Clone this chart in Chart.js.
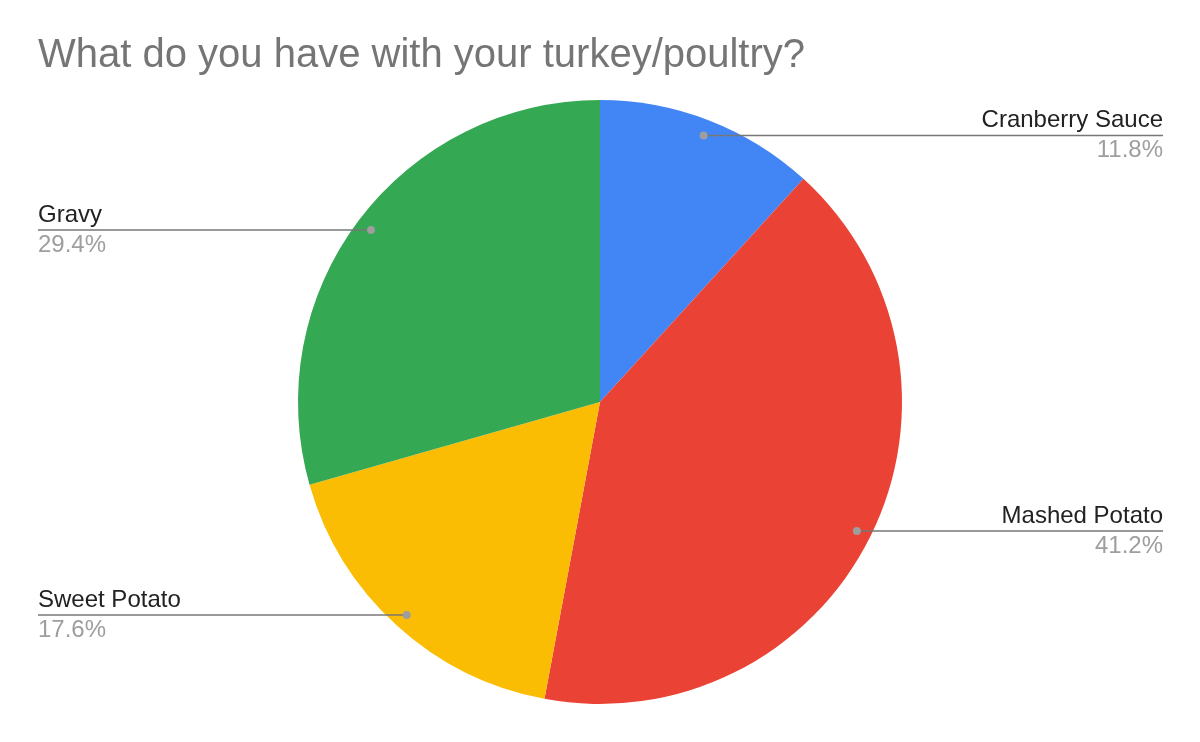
<!DOCTYPE html>
<html>
<head>
<meta charset="utf-8">
<title>What do you have with your turkey/poultry?</title>
<script src="https://cdn.jsdelivr.net/npm/chart.js@4"></script>
<style>
  html, body { margin: 0; padding: 0; background: #fff; }
  #wrap { width: 1200px; height: 742px; }
</style>
</head>
<body>
<div id="wrap"><canvas id="pieChart" width="1200" height="742"></canvas></div>
<script>
// data
const categories = ['Cranberry Sauce', 'Mashed Potato', 'Sweet Potato', 'Gravy'];
const counts = [2, 7, 3, 5];
const sliceColors = ['#4285F4', '#EA4335', '#FBBC04', '#34A853'];

const FONT = '"Liberation Sans", Arial, sans-serif';

// leader lines + labels, Google Sheets style
const leaderLabels = {
  id: 'leaderLabels',
  afterDatasetsDraw(chart) {
    const ctx = chart.ctx;
    const meta = chart.getDatasetMeta(0);
    const total = counts.reduce((a, b) => a + b, 0);
    const leftX = 38, rightX = 1163;
    meta.data.forEach((arc, i) => {
      const p = arc.getProps(['x', 'y', 'startAngle', 'endAngle', 'outerRadius'], true);
      const mid = (p.startAngle + p.endAngle) / 2;
      const dx = p.x + Math.cos(mid) * p.outerRadius * 0.95;
      const dy = p.y + Math.sin(mid) * p.outerRadius * 0.95 + 1;
      const right = Math.cos(mid) > 0;
      const endX = right ? rightX : leftX;

      ctx.save();
      ctx.strokeStyle = '#777777';
      ctx.lineWidth = 1.5;
      ctx.beginPath();
      ctx.moveTo(dx, dy);
      ctx.lineTo(endX, dy);
      ctx.stroke();

      ctx.fillStyle = '#9e9e9e';
      ctx.beginPath();
      ctx.arc(dx, dy, 4, 0, Math.PI * 2);
      ctx.fill();

      ctx.textAlign = right ? 'right' : 'left';
      ctx.textBaseline = 'alphabetic';
      ctx.font = '24px ' + FONT;
      ctx.fillStyle = '#222222';
      ctx.fillText(categories[i], endX, dy - 8);
      ctx.fillStyle = '#9e9e9e';
      ctx.fillText((counts[i] / total * 100).toFixed(1) + '%', endX, dy + 22);
      ctx.restore();
    });
  }
};

new Chart(document.getElementById('pieChart'), {
  type: 'pie',
  data: {
    labels: categories,
    datasets: [{
      data: counts,
      backgroundColor: sliceColors,
      borderWidth: 0
    }]
  },
  options: {
    responsive: false,
    animation: false,
    devicePixelRatio: 1,
    layout: { padding: { top: 0, bottom: 38, left: 38, right: 38 } },
    plugins: {
      legend: { display: false },
      tooltip: { enabled: false },
      title: {
        display: true,
        text: 'What do you have with your turkey/poultry?',
        align: 'start',
        color: '#757575',
        font: { family: FONT, size: 40, weight: 'normal', lineHeight: 1.2 },
        padding: { top: 32, bottom: 20 }
      }
    }
  },
  plugins: [leaderLabels]
});
</script>
</body>
</html>
